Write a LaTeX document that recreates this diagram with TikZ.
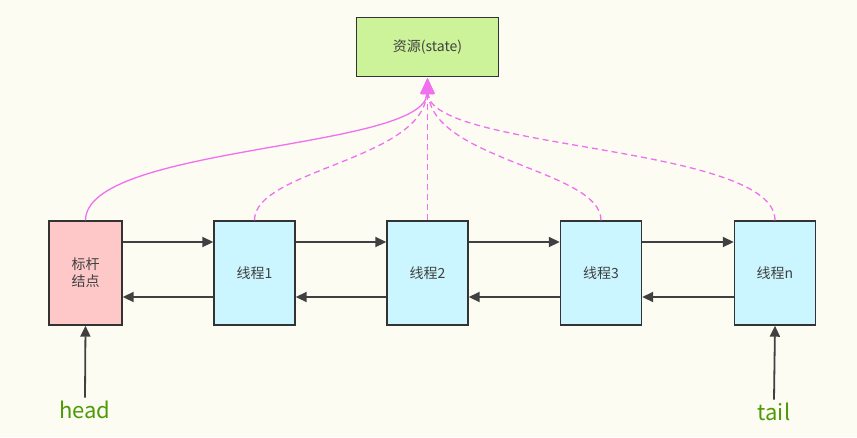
\documentclass[tikz,border=0pt]{standalone}
\usepackage{fontspec}
\setmainfont{Noto Sans CJK SC}
\usetikzlibrary{arrows.meta}
\definecolor{bg}{HTML}{FCFCF2}
\definecolor{grn}{HTML}{CCF39A}
\definecolor{pnk}{HTML}{FFC8C8}
\definecolor{cyn}{HTML}{CCF6FF}
\definecolor{mag}{HTML}{F070F0}
\definecolor{lbl}{HTML}{4E9A06}
\tikzset{
 boxst/.style={draw=black!80,line width=1.4pt,minimum width=81pt,minimum height=104pt,font=\fontsize{14}{17}\selectfont,text=black!75},
 link/.style={-{Triangle[length=11pt,width=10pt]},line width=1.8pt,black!75},
 res/.style={mag,line width=1.3pt,-{Triangle[length=16pt,width=13pt]}},
 resd/.style={res,dash pattern=on 6pt off 4pt}
}
\begin{document}
\begin{tikzpicture}[x=1pt,y=-1pt]
\fill[bg] (0,0) rectangle (857,437);
\useasboundingbox (0,0) rectangle (857,437);
\node[boxst,fill=grn,minimum width=142pt,minimum height=59pt] (st) at (427.5,47) {资源(state)};
\node[boxst,fill=pnk,minimum width=73pt,align=center] (h) at (85.5,273) {标杆\\结点};
\node[boxst,fill=cyn] (t1) at (254.5,273) {线程1};
\node[boxst,fill=cyn] (t2) at (427.5,273) {线程2};
\node[boxst,fill=cyn] (t3) at (601,273) {线程3};
\node[boxst,fill=cyn] (tn) at (775,273) {线程n};
\foreach \a/\b in {h/t1,t1/t2,t2/t3,t3/tn}{
 \draw[link] ([yshift=31pt]\a.east) -- ([yshift=31pt]\b.west);
 \draw[link] ([yshift=-24pt]\b.west) -- ([yshift=-24pt]\a.east);
}
\coordinate (tip) at (427.5,78);
\draw[res] (h.north) .. controls (86,145) and (425,150) .. (tip);
\draw[resd] (t1.north) .. controls (254,170) and (423,160) .. (tip);
\draw[resd,line width=1.6pt] (t2.north) -- (tip);
\draw[resd] (t3.north) .. controls (601,170) and (432,160) .. (tip);
\draw[resd] (tn.north) .. controls (775,145) and (430,150) .. (tip);
\node[text=lbl,font=\fontsize{22}{24}\selectfont] (hd) at (85,410) {head};
\node[text=lbl,font=\fontsize{22}{24}\selectfont] (tl) at (774,412) {tail};
\draw[link] (hd.north) -- (h.south);
\draw[link] (tl.north) -- (tn.south);
\end{tikzpicture}
\end{document}
